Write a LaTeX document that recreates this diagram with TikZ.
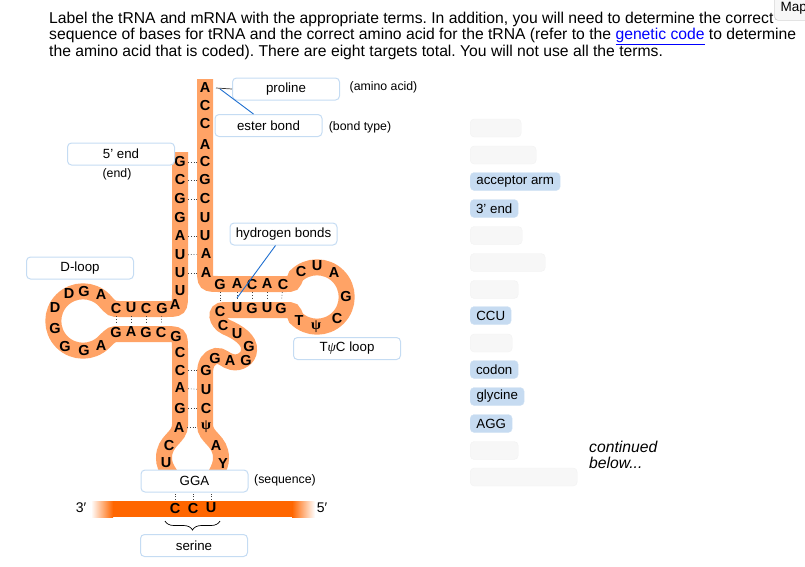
\documentclass[tikz,border=0pt]{standalone}
\usepackage{fontspec}
\usepackage{xcolor}
\usetikzlibrary{decorations.pathreplacing}
\setmainfont{Liberation Sans}
\newfontfamily\psifont{Liberation Serif}
\newcommand{\psib}{{\psifont\bfseries ψ}}
\definecolor{trna}{HTML}{FFA366}
\definecolor{mrna}{HTML}{FF6600}
\definecolor{boxline}{HTML}{C5DCF3}
\definecolor{chipfill}{HTML}{C6DBF1}
\definecolor{pointerblue}{HTML}{1F6FD0}
\tikzset{
  band/.style={draw=trna, line width=16pt},
  basenode/.style={font=\fontsize{14.5}{14.5}\bfseries\selectfont, minimum size=16pt, inner sep=0pt},
  labelbox/.style={draw=boxline, fill=white, line width=1pt, rounded corners=4pt, minimum width=107pt, minimum height=22pt, inner sep=0pt, font=\fontsize{13.3}{13.3}\selectfont},
  note/.style={font=\fontsize{12.3}{12.3}\selectfont, inner sep=0pt},
  chip/.style={anchor=west, fill=chipfill, draw=chipfill!80!white, rounded corners=4pt, minimum height=18pt, inner sep=0pt, font=\fontsize{13.3}{13.3}\selectfont},
  slot/.style={anchor=west, fill=black!3, draw=black!5, rounded corners=4pt, minimum height=18pt, inner sep=0pt},
  bond/.style={dotted, line width=.7pt, black!75},
  pointer/.style={pointerblue, line width=.9pt}
}
\begin{document}
\begin{tikzpicture}[x=1pt, y=-1pt]
\useasboundingbox (0,0) rectangle (805,566);
% instructions
\node[anchor=north west, align=left, inner sep=0pt, font=\fontsize{15.7}{15.5}\selectfont\frenchspacing] (intro) at (49,12) {Label the tRNA and mRNA with the appropriate terms. In addition, you will need to determine the correct\\
sequence of bases for tRNA and the correct amino acid for the tRNA (refer to the \textcolor{blue}{\underline{genetic code}} to determine\\
the amino acid that is coded). There are eight targets total. You will not use all the terms.};
\node[anchor=north west, draw=black!30, fill=black!3, rounded corners=3pt, minimum width=44pt, minimum height=24pt, font=\fontsize{13.5}{13.5}\selectfont, text width=36pt, inner xsep=6pt, inner ysep=2pt, align=left] (mapbtn) at (774.5,-4) {Map};
% tRNA backbone
\draw[band] (205,79) -- (205,268) .. controls (205,284) .. (221,284) -- (285,284) .. controls (293,284) .. (296,276) arc [start angle=-135, end angle=135, radius=29.7] .. controls (293,310) .. (285,310) -- (224,310) .. controls (214,310) and (216,322) .. (226,327) .. controls (238,332) and (250,340) .. (249,350) .. controls (249,358) and (240,364) .. (232,362) .. controls (226,361) and (222,355) .. (216,356) .. controls (208,358) and (205,364) .. (205,374) -- (205,425) .. controls (205,438) and (221,440) .. (221,458) .. controls (221,464) and (219,468) .. (216,474);
\draw[band] (180,152) -- (180,293) .. controls (180,309) .. (164,309) -- (120,309) .. controls (112,309) .. (104,300) arc [start angle=-45, end angle=-315, radius=29.7] .. controls (112,334) .. (120,334) -- (162,334) .. controls (180,334) .. (180,350) -- (180,425) .. controls (180,438) and (164,440) .. (164,458) .. controls (164,464) and (166,468) .. (170,474);
% mRNA strip
\fill[mrna] (113,501) rectangle (292,517);
\shade[left color=white, right color=mrna] (91,501) rectangle (113,517);
\shade[left color=mrna, right color=white] (292,501) rectangle (315,517);
% bases
\foreach \n/\x/\y/\b in {ra1/205/88/A, ra2/205/106/C, ra3/205/124/C, ra4/205/145/A, ra5/205/162/C, ra6/205/180/G, ra7/205/199/C, ra8/205/218/U, ra9/205/236/U, ra10/206/254/A, ra11/206/273/A,
  la1/180/162/G, la2/180/180/C, la3/180/199/G, la4/180/218/G, la5/180/236/A, la6/180/255/U, la7/180/273/U, la8/180/291/U,
  da1/175/305/A, da2/162/308/G, da3/146/308/C, da4/131/308/U, da5/116/308/C, da6/101/295/A, da7/84/291/G, da8/69/294/D, da9/55/308/D, da10/55/328/G, da11/65/346/G, da12/84/350/G, da13/101/346/A, da14/116/332/G, da15/131/332/A, da16/146/332/G, da17/161/332/C,
  ac1/176/336/G, ac2/180/352/C, ac3/180/370/C, ac4/180/388/A, ac5/180/408/G, ac6/179/427/A, ac7/169/445/C, ac8/166/463/U,
  ad1/206/370/G, ad2/206/390/U, ad3/206/408/C, ad4/206/427/\psib, ad5/216/445/A, ad6/223/463/Y,
  tu1/220/284/G, tu2/237/284/A, tu3/252/284/C, tu4/267/284/A, tu5/283/284/C, tu6/301/271/C, tu7/317/266/U, tu8/334/273/A, tu9/346/296/G, tu10/337/318/C, tu11/316/327/\psib, tu12/299/321/T,
  tl1/281/308/G, tl2/267/308/U, tl3/252/308/G, tl4/237/308/U, tl5/220/311/C, tl6/223/325/C, tl7/237/334/U, tl8/249/346/G, tl9/246/360/G, tl10/230/361/A, tl11/215/358/G,
  mc1/175/508/C, mc2/193/508/C, mc3/211/508/U}
  \node[basenode] (\n) at (\x,\y) {\b};
% hydrogen bonds between bases
\foreach \a/\b in {la1/ra5, la2/ra6, la3/ra7, la5/ra9, la6/ra10, la7/ra11, ac3/ad1, ac4/ad2, ac5/ad3, ac6/ad4, da5/da14, da4/da15, da3/da16, da2/da17, tu1/tl5, tu2/tl4, tu3/tl3, tu4/tl2, tu5/tl1}
  \draw[bond] (\a) -- (\b);
% drop targets on the diagram
\node[labelbox] (proline) at (286,89) {proline};
\node[labelbox] (ester) at (268.5,125.5) {ester bond};
\node[labelbox] (fiveend) at (121,154) {5' end};
\node[labelbox] (hbonds) at (283.5,234) {hydrogen bonds};
\node[labelbox] (dloop) at (80,268) {D-loop};
\node[labelbox] (tloop) at (347,348.5) {T{\psifont\itshape ψ}C loop};
\node[labelbox] (ggabox) at (194.5,481) {GGA};
\node[labelbox] (serine) at (194,545.5) {serine};
\node[note] (aminonote) at (383.5,87) {(amino acid)};
\node[note] (bondnote) at (360,127) {(bond type)};
\node[note] (endnote) at (117,174) {(end)};
\node[note] (seqnote) at (285,480) {(sequence)};
\node[font=\fontsize{14}{14}\selectfont, inner sep=0pt] (threeprime) at (81,508) {3′};
\node[font=\fontsize{14}{14}\selectfont, inner sep=0pt] (fiveprime) at (322,508) {5′};
% pointers
\coordinate (acctop) at (216,88);
\coordinate (accend) at (220,89);
\coordinate (bondend) at (237,298);
\draw[black!80, line width=.7pt] (acctop) -- (proline.west);
\draw[pointer] (accend) -- ([xshift=-15pt]ester.north);
\draw[pointer] (bondend) -- ([xshift=-8pt]hbonds.south);
% codon-anticodon
\foreach \m in {mc1, mc2, mc3}
  \draw[bond] (\m) -- (\m |- ggabox.south);
\coordinate (braceleft) at (165,521);
\coordinate (braceright) at (220,521);
\draw[decorate, decoration={brace, amplitude=9pt}, line width=.7pt] (braceright) -- (braceleft);
% terms
\foreach \n/\y/\w in {slota/128/51, slotb/155/66, slotc/235.5/52, slotd/262.5/75, slote/289.5/48, slotf/343/42, slotg/450.5/48, sloth/477/107}
  \node[slot, minimum width=\w] (\n) at (470,\y) {};
\node[chip, minimum width=90pt] (acceptor) at (470,181.5) {acceptor arm};
\node[chip, minimum width=48pt] (threeend) at (470,208.5) {3' end};
\node[chip, minimum width=41pt] (ccu) at (470,315.5) {CCU};
\node[chip, minimum width=48pt] (codon) at (470,369.5) {codon};
\node[chip, minimum width=54pt] (glycine) at (470,396.5) {glycine};
\node[chip, minimum width=42pt] (agg) at (470,423.5) {AGG};
\node[anchor=north west, align=left, inner sep=0pt, font=\fontsize{15.7}{15.5}\itshape\selectfont] (contnote) at (589,441) {continued\\below...};
\end{tikzpicture}
\end{document}
